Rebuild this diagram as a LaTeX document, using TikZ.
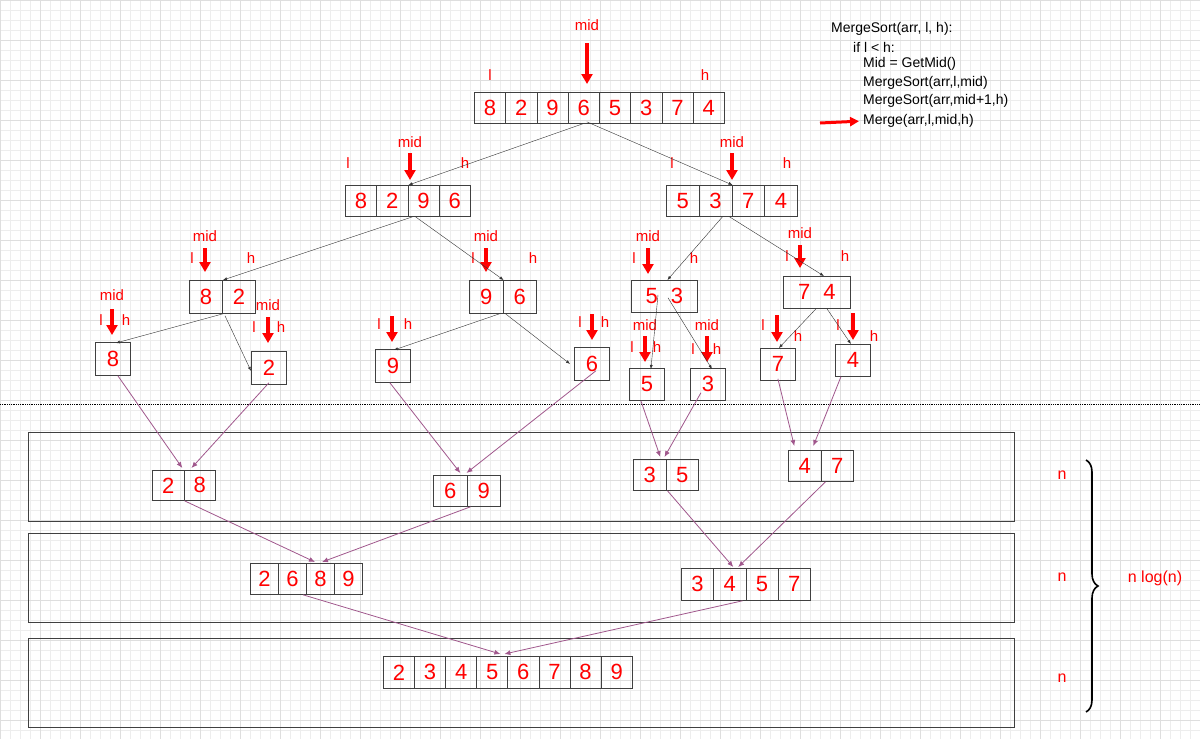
\documentclass[tikz,border=0pt]{standalone}
\usepackage{fontspec}
\setmainfont{Liberation Sans}
\usetikzlibrary{arrows.meta,calc,decorations.pathreplacing}
\definecolor{dred}{RGB}{255,0,0}
\definecolor{pur}{RGB}{160,87,140}
\tikzset{
  cell/.style={draw=black!75,thick,inner sep=0pt,text=dred,font=\fontsize{22}{22}\selectfont,anchor=north west},
  lab/.style={text=dred,font=\fontsize{15}{15}\selectfont,inner sep=0pt},
  code/.style={font=\fontsize{14}{14}\selectfont,inner sep=0pt,anchor=west},
  ptrarrow/.style={draw=dred,line width=3.5pt,-{Triangle[width=11pt,length=10pt]}},
  tree/.style={draw=black!80,thin,-{Latex[length=4pt,width=3pt]}},
  merge/.style={draw=pur,thick,-{Latex[length=6pt,width=5pt]}},
  band/.style={draw=black!75,thick}
}
\newcommand\cells[6]{%
  \foreach \v [count=\i] in {#6}{%
    \node[cell,minimum width=#4pt,minimum height=#5pt] (#1-\i) at ({#2+(\i-1)*#4},#3) {\v};}}
\newcommand\ptr[8]{%
  \node[lab] (#1-l) at (#2,#5) {l};
  \node[lab] (#1-h) at (#4,#5) {h};
  \node[lab] (#1-m) at (#3,#6) {mid};
  \coordinate (#1-a) at (#3,#7); \coordinate (#1-b) at (#3,#8);
  \draw[ptrarrow] (#1-a) -- (#1-b);}
\begin{document}
\begin{tikzpicture}[x=1pt,y=-1pt]
\useasboundingbox (0,0) rectangle (1200,739);
\fill[white] (0,0) rectangle (1200,739);
\draw[black!7,step=10pt] (0,0) grid (1200,739);
\draw[black!13,step=40pt] (0,0) grid (1200,739);
% top
\cells{a}{474}{92}{31.25}{31}{8,2,9,6,5,3,7,4}
\ptr{pa}{490}{587}{705}{75}{25}{43}{84}
\cells{b}{345}{185}{31.25}{31}{8,2,9,6}
\ptr{pb}{348}{410}{465}{163}{142}{153}{180}
\cells{c}{666}{185}{32.75}{31}{5,3,7,4}
\ptr{pc}{672}{732}{787}{163}{142}{153}{180}
% level 3
\cells{d}{189}{280}{33}{33}{8,2}
\ptr{pd}{192}{205}{251}{258}{236}{248}{272}
\cells{e}{469}{280}{33.5}{33}{9,6}
\ptr{pe}{473}{486}{533}{258}{236}{248}{272}
\node[cell,minimum width=66pt,minimum height=32pt] (f) at (631,280) {5\hspace{13pt}3};
\ptr{pf}{634}{648}{694}{258}{236}{248}{274}
\node[cell,minimum width=67pt,minimum height=32pt] (g) at (783,276) {7\hspace{13pt}4};
\ptr{pg}{787}{800}{845}{256}{233}{245}{268}
% leaves
\node[cell,minimum width=35pt,minimum height=33pt] (l8) at (95,342) {8};
\ptr{p8}{101}{112}{126}{320}{295}{309}{335}
\node[cell,minimum width=35pt,minimum height=33pt] (l2) at (251,351) {2};
\ptr{p2}{254}{268}{281}{327}{305}{317}{343}
\node[cell,minimum width=35pt,minimum height=33pt] (l9) at (375,349) {9};
\node[lab] (p9-l) at (379,324) {l}; \node[lab] (p9-h) at (408,324) {h};
\coordinate (p9-a) at (392,316); \coordinate (p9-b) at (392,342); \draw[ptrarrow] (p9-a) -- (p9-b);
\node[cell,minimum width=35pt,minimum height=33pt] (l6) at (574,347) {6};
\node[lab] (p6-l) at (580,322) {l}; \node[lab] (p6-h) at (605,322) {h};
\coordinate (p6-a) at (592,314); \coordinate (p6-b) at (592,340); \draw[ptrarrow] (p6-a) -- (p6-b);
\node[cell,minimum width=35pt,minimum height=32pt] (l5) at (629,368) {5};
\ptr{p5}{632}{645}{657}{347}{325}{336}{362}
\node[cell,minimum width=35pt,minimum height=32pt] (l3) at (690,368) {3};
\ptr{p3}{693}{707}{717}{349}{325}{336}{362}
\node[cell,minimum width=35pt,minimum height=32pt] (l7) at (760,348) {7};
\node[lab] (p7-l) at (763,325) {l}; \node[lab] (p7-h) at (798,336) {h};
\coordinate (p7-a) at (777,315); \coordinate (p7-b) at (777,342); \draw[ptrarrow] (p7-a) -- (p7-b);
\node[cell,minimum width=35pt,minimum height=32pt] (l4) at (835,344) {4};
\node[lab] (p4-l) at (838,325) {l}; \node[lab] (p4-h) at (874,336) {h};
\coordinate (p4-a) at (853,313); \coordinate (p4-b) at (853,340); \draw[ptrarrow] (p4-a) -- (p4-b);
% tree connectors
\draw[tree] ($(a-4.south)+(-1,0)$) -- ($(b-3.north west)+(1,0)$);
\draw[tree] ($(a-4.south)+(3,-2)$) -- ($(c-3.north west)+(1,0)$);
\draw[tree] ($(b-3.south west)+(5,0)$) -- ($(d-2.north west)+(1,0)$);
\draw[tree] ($(b-3.south west)+(8,0)$) -- ($(e-2.north west)+(1,0)$);
\draw[tree] ($(c-3.south west)+(-9,0)$) -- ($(f.north)+(3,0)$);
\draw[tree] ($(c-3.south west)+(-2,0)$) -- ($(g.north)+(7,0)$);
\draw[tree] ($(d-2.south west)+(1,0)$) -- ($(l8.north)+(3,1)$);
\draw[tree] ($(d-2.south west)+(3,2)$) -- ($(l2.west)+(0,3)$);
\draw[tree] ($(e-2.south west)+(-3,0)$) -- ($(l9.north)+(1,1)$);
\draw[tree] ($(e-2.south west)+(3,0)$) -- ($(l6.west)+(-4,0)$);
\draw[tree] ($(f.south west)+(27,-18)$) -- ($(l5.north)+(4,1)$);
\draw[tree] ($(f.south west)+(37,-15)$) -- ($(l3.north)+(4,1)$);
\draw[tree] ($(g.south west)+(33,0)$) -- ($(l7.north)+(1,0)$);
\draw[tree] ($(g.south west)+(44,0)$) -- ($(l4.north)+(-2,0)$);
% dotted separator
\coordinate (s1) at (0,404); \coordinate (s2) at (1200,404);
\draw[densely dotted,thick] (s1) -- (s2);
% bands
\draw[band] (28,432) rectangle (1014,521);
\draw[band] (28,533) rectangle (1014,622);
\draw[band] (28,638) rectangle (1014,727);
% merged
\cells{m1}{152}{470}{31.5}{30}{2,8}
\cells{m2}{433}{475}{33.5}{31}{6,9}
\cells{m3}{633}{459}{32.5}{31}{3,5}
\cells{m4}{788}{450}{32.5}{31}{4,7}
\cells{n1}{250}{563}{28}{31}{2,6,8,9}
\cells{n2}{681}{568}{32.25}{32}{3,4,5,7}
\cells{z}{383}{656}{31.1}{32}{2,3,4,5,6,7,8,9}
% merge connectors
\draw[merge] ($(l8.south)+(5,0)$) -- ($(m1-1.north east)+(-2,-2)$);
\draw[merge] ($(l2.south)+(0,-2)$) -- ($(m1-2.north west)+(8,-2)$);
\draw[merge] ($(l9.south)+(-3,0)$) -- ($(m2-1.north east)+(-7,-2)$);
\draw[merge] ($(l6.south)+(4,-10)$) -- ($(m2-2.north west)+(0,-2)$);
\draw[merge] ($(l5.south)+(-6,0)$) -- ($(m3-1.north east)+(-6,-2)$);
\draw[merge] ($(l3.south)+(-7,-8)$) -- ($(m3-2.north west)+(-1,-2)$);
\draw[merge] ($(l7.south)+(0,-2)$) -- ($(m4-1.north east)+(-27,-4)$);
\draw[merge] ($(l4.south)+(-12,0)$) -- ($(m4-1.north east)+(-8,-4)$);
\draw[merge] ($(m1-2.south west)+(1,0)$) -- ($(n1-3.north west)+(9,-1)$);
\draw[merge] ($(m2-2.south west)+(4,0)$) -- ($(n1-3.north west)+(16,-1)$);
\draw[merge] ($(m3-2.south west)+(2,0)$) -- ($(n2-2.north west)+(20,-1)$);
\draw[merge] ($(m4-2.south west)+(5,0)$) -- ($(n2-2.north west)+(25,-1)$);
\draw[merge] ($(n1-3.south west)+(-3,0)$) -- ($(z-5.north west)+(-7,-2)$);
\draw[merge] ($(n2-3.south west)+(-3,0)$) -- ($(z-5.north west)+(-3,-2)$);
% right side
\node[font=\fontsize{16}{16}\selectfont,text=dred] (t1) at (1062,475) {n};
\node[font=\fontsize{16}{16}\selectfont,text=dred] (t2) at (1062,577) {n};
\node[font=\fontsize{16}{16}\selectfont,text=dred] (t3) at (1062,678) {n};
\coordinate (br1) at (1086,460); \coordinate (br2) at (1086,712);
\draw[line width=1.6pt,decorate,decoration={brace,amplitude=12pt}] (br1) -- (br2);
\node[font=\fontsize{16}{16}\selectfont,text=dred] (nl) at (1155,578) {n log(n)};
% code
\node[code] (c1) at (831,29) {MergeSort(arr, l, h):};
\node[code] (c2) at (853,47) {if l < h:};
\node[code] (c3) at (863,64) {Mid = GetMid()};
\node[code] (c4) at (863,83) {MergeSort(arr,l,mid)};
\node[code] (c5) at (863,101) {MergeSort(arr,mid+1,h)};
\node[code] (c6) at (863,121) {Merge(arr,l,mid,h)};
\coordinate (ca) at (820,123);
\draw[draw=dred,line width=3pt,-{Triangle[width=9pt,length=9pt]},shorten >=4pt] (ca) -- (c6.west);
\end{tikzpicture}
\end{document}
